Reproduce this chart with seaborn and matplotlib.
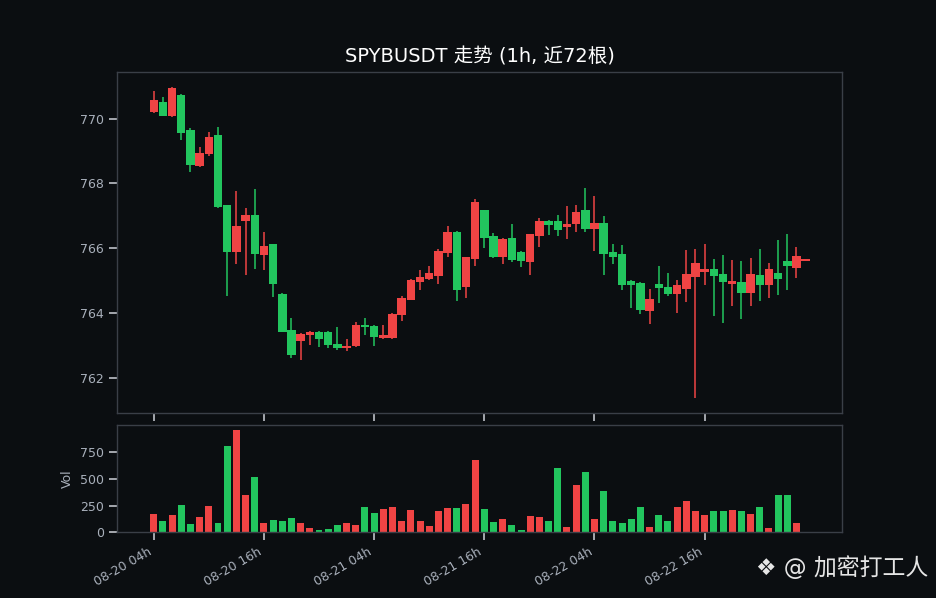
import matplotlib
matplotlib.use("Agg")
import matplotlib.pyplot as plt
import numpy as np
import pandas as pd
import seaborn as sns

# hourly candles, 72 bars
start = "2025-08-20 04:00"
n_bars = 72

opens = [770.22, 770.52, 770.07, 770.74, 769.66, 768.54, 768.90, 769.51, 767.32, 765.89,
         766.84, 767.02, 765.79, 766.12, 764.58, 763.48, 763.12, 763.30, 763.42, 763.42,
         763.05, 762.90, 762.96, 763.63, 763.60, 763.21, 763.21, 763.92, 764.41, 764.96,
         765.06, 765.15, 765.86, 766.49, 764.81, 765.67, 767.17, 766.37, 765.73, 766.31,
         765.88, 765.58, 766.38, 766.83, 766.83, 766.66, 766.75, 767.17, 766.59, 766.77,
         765.88, 765.82, 764.99, 764.92, 764.07, 764.89, 764.80, 764.59, 764.75, 765.12,
         765.27, 765.35, 765.20, 764.90, 764.95, 764.62, 765.17, 764.87, 765.23, 765.60,
         765.39, 765.61]
highs = [770.86, 770.68, 770.97, 770.76, 769.72, 769.11, 769.58, 769.75, 767.34, 767.75,
         767.23, 767.82, 766.49, 766.14, 764.60, 763.85, 763.37, 763.45, 763.45, 763.44,
         763.57, 763.20, 763.72, 763.85, 763.62, 763.63, 763.99, 764.52, 765.04, 765.32,
         765.45, 765.97, 766.68, 766.52, 765.74, 767.51, 767.19, 766.46, 766.30, 766.74,
         765.90, 766.45, 766.92, 766.86, 767.02, 767.29, 767.32, 767.85, 767.60, 766.98,
         766.12, 766.09, 765.01, 764.94, 764.74, 765.45, 765.23, 765.02, 765.94, 765.97,
         766.12, 765.66, 765.78, 765.63, 765.60, 765.69, 765.97, 765.54, 766.25, 766.43,
         766.03, 765.66]
lows = [770.16, 770.07, 770.05, 769.35, 768.34, 768.52, 768.86, 767.25, 764.53, 765.52,
        765.18, 765.36, 765.33, 764.49, 763.40, 762.59, 762.55, 763.02, 762.93, 762.90,
        762.84, 762.81, 762.94, 763.30, 762.96, 763.19, 763.19, 763.76, 764.39, 764.72,
        765.02, 764.90, 765.73, 764.38, 764.47, 765.46, 766.01, 765.70, 765.52, 765.58,
        765.42, 765.17, 766.04, 766.40, 766.38, 766.28, 766.50, 766.50, 765.92, 765.18,
        765.52, 764.69, 764.16, 763.95, 763.64, 764.29, 764.53, 763.98, 764.32, 761.38,
        764.87, 763.89, 763.67, 764.22, 763.82, 764.22, 764.38, 764.47, 764.56, 764.69,
        765.09, 765.61]
closes = [770.58, 770.07, 770.95, 769.55, 768.56, 768.95, 769.42, 767.27, 765.89, 766.68,
          767.02, 765.82, 766.06, 764.90, 763.42, 762.69, 763.35, 763.42, 763.18, 763.02,
          762.90, 762.98, 763.63, 763.55, 763.24, 763.30, 763.97, 764.46, 765.02, 765.11,
          765.23, 765.91, 766.49, 764.69, 765.72, 767.42, 766.32, 765.73, 766.28, 765.64,
          765.59, 766.43, 766.83, 766.72, 766.56, 766.74, 767.11, 766.59, 766.77, 765.82,
          765.73, 764.87, 764.87, 764.10, 764.43, 764.78, 764.59, 764.86, 765.20, 765.54,
          765.35, 765.15, 764.96, 764.98, 764.62, 765.20, 764.87, 765.35, 765.06, 765.46,
          765.75, 765.66]
volumes = [169, 103, 159, 253, 75, 141, 244, 84, 806, 956,
           347, 516, 84, 112, 103, 131, 84, 37, 19, 28,
           66, 84, 66, 234, 178, 216, 234, 103, 206, 103,
           56, 197, 225, 225, 262, 675, 216, 94, 122, 66,
           19, 150, 141, 103, 600, 47, 441, 562, 122, 384,
           103, 84, 122, 234, 47, 159, 103, 234, 291, 197,
           159, 197, 197, 206, 197, 169, 234, 37, 347, 347,
           84, 0]

title = "SPYBUSDT 走势 (1h, 近72根)"
watermark = "❖ @ 加密打工人"

BG = "#0b0e11"
SPINE = "#3a3f47"
TEXT = "#a9b0bb"
UP = "#ef4444"
DOWN = "#22c55e"

sns.set_theme(style="dark", rc={
    "figure.facecolor": BG,
    "axes.facecolor": BG,
    "axes.edgecolor": SPINE,
    "axes.linewidth": 1.0,
    "axes.labelcolor": TEXT,
    "xtick.color": "#b8bcc2",
    "ytick.color": "#b8bcc2",
    "xtick.labelcolor": TEXT,
    "ytick.labelcolor": TEXT,
    "xtick.bottom": True,
    "ytick.left": True,
    "xtick.labelsize": 9,
    "ytick.labelsize": 9,
    "axes.labelsize": 9,
})
plt.rcParams["font.family"] = ["DejaVu Sans", "Noto Sans CJK SC"]

times = pd.date_range(start, periods=n_bars, freq="h")
hours = np.arange(n_bars)
o = np.array(opens)
h = np.array(highs)
l = np.array(lows)
c = np.array(closes)
up = c >= o
colors = np.where(up, UP, DOWN)

df = pd.DataFrame({"hour": hours, "vol": volumes,
                   "dir": np.where(up, "up", "down")})

fig = plt.figure(figsize=(9.36, 5.98), dpi=100)
gs = fig.add_gridspec(2, 1, height_ratios=[3.19, 1], hspace=0.054,
                      left=0.125, right=0.9, top=0.88, bottom=0.11)
ax = fig.add_subplot(gs[0])
ax_vol = fig.add_subplot(gs[1], sharex=ax)

# candles: wicks then bodies
ax.vlines(hours, l, h, colors=colors, linewidth=1.1, zorder=2)
body = np.where(np.abs(c - o) < 0.02, 0.02, c - o)
ax.bar(hours, body, bottom=o, width=0.92, color=colors, linewidth=0, zorder=3)
ax.set_title(title, color="white", fontsize=14, pad=7)
ax.tick_params(labelbottom=False)

sns.barplot(data=df, x="hour", y="vol", hue="dir", palette={"up": UP, "down": DOWN},
            native_scale=True, dodge=False, width=0.76, saturation=1,
            errorbar=None, legend=False, orient="x", linewidth=0, ax=ax_vol)
ax_vol.set_ylabel("Vol")
ax_vol.set_xlabel("")
ax_vol.set_yticks([0, 250, 500, 750])

tick_pos = hours[::12]
ax_vol.set_xticks(tick_pos)
ax_vol.set_xticklabels([t.strftime("%m-%d %Hh") for t in times[::12]],
                       rotation=30, ha="right")
ax.set_xlim(-4, 75)

for a in (ax, ax_vol):
    for s in a.spines.values():
        s.set_color(SPINE)

fig.text(0.992, 0.03, watermark, ha="right", va="bottom", fontsize=16.5,
         color="#e6e6e6")

fig.savefig("out.png", dpi=100, facecolor=BG)
